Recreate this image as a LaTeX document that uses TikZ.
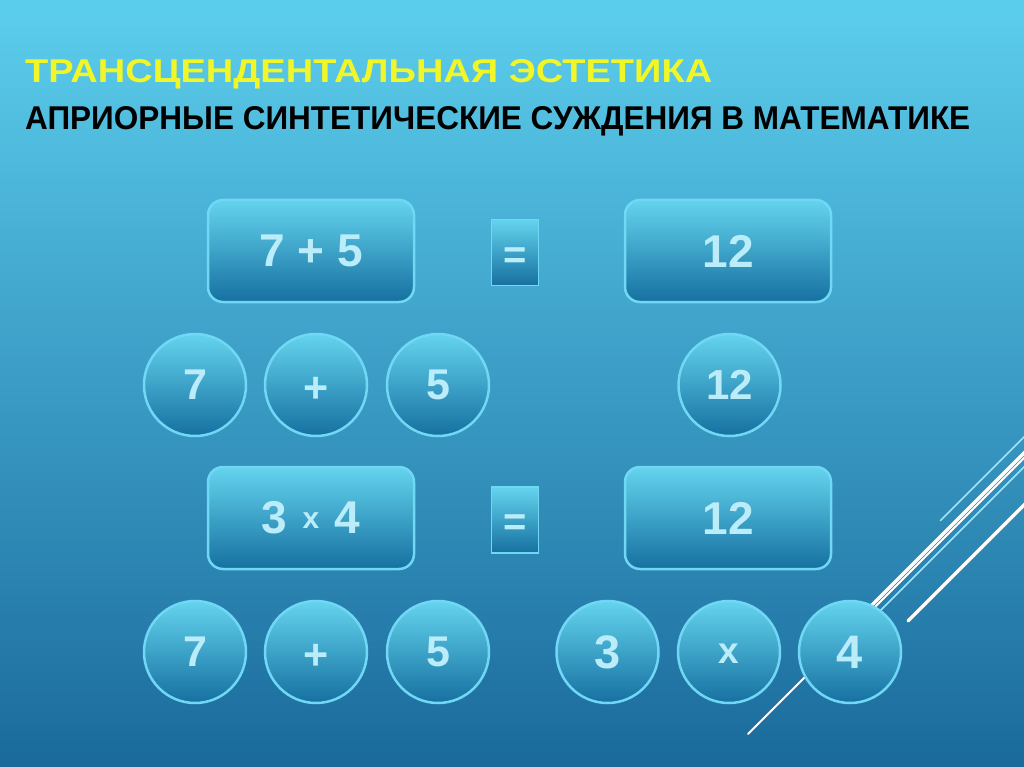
\documentclass[tikz,border=0pt]{standalone}
\usepackage{fontspec}
\setmainfont{Liberation Sans}
\usepackage{graphicx}
\definecolor{bgTop}{RGB}{92,206,237}
\definecolor{bgMid}{RGB}{50,156,200}
\definecolor{bgBot}{RGB}{26,106,156}
\definecolor{fillTop}{RGB}{100,212,238}
\definecolor{fillBot}{RGB}{22,112,160}
\definecolor{edge}{RGB}{112,216,245}
\definecolor{numtxt}{RGB}{186,236,250}
\definecolor{titleyellow}{RGB}{240,246,40}
\definecolor{decocyan}{RGB}{160,228,246}
\begin{document}
\begin{tikzpicture}[x=1pt,y=-1pt,
  shapebase/.style={draw=edge, top color=fillTop, bottom color=fillBot, text=numtxt, inner sep=0pt},
  bigbox/.style={shapebase, rectangle, rounded corners=15pt, line width=2.5pt, minimum width=206pt, minimum height=102pt, font=\bfseries\fontsize{46}{46}\selectfont},
  eqbox/.style={shapebase, rectangle, line width=1.5pt, minimum width=47pt, minimum height=66pt, font=\bfseries\fontsize{40}{40}\selectfont, text height=31pt, text depth=0pt},
  circ/.style={shapebase, circle, line width=2.5pt, minimum size=102pt, font=\bfseries\fontsize{43}{43}\selectfont},
  pluscirc/.style={circ, text height=34pt, text depth=0pt},
  bigcirc/.style={circ, font=\bfseries\fontsize{47}{47}\selectfont},
  smallcirc/.style={circ, font=\bfseries\fontsize{37}{37}\selectfont, text height=23pt, text depth=0pt},
  decothick/.style={draw=white, line width=3.5pt, line cap=round},
  decothin/.style={draw=white, line width=1.8pt, line cap=round},
  decolight/.style={draw=decocyan, line width=1.6pt, line cap=round}
]
\useasboundingbox (0,0) rectangle (1024,767);
\shade[top color=bgTop, middle color=bgMid, bottom color=bgBot] (0,0) rectangle (1024,767);
\clip (0,0) rectangle (1024,767);

% decorative diagonal lines
\coordinate (a1) at (940.5,520.5); \coordinate (a2) at (1030,431);
\coordinate (b1s) at (850,627);  \coordinate (b1e) at (1030,447);
\coordinate (b2s) at (748,734);  \coordinate (b2e) at (1030,452);
\coordinate (b3s) at (860,631);  \coordinate (b3e) at (1030,461);
\coordinate (c1) at (908,621);   \coordinate (c2) at (1030,499);
\draw[decolight] (a1) -- (a2);
\draw[decothick] (b1s) -- (b1e);
\draw[decothin] (b2s) -- (b2e);
\draw[decolight] (b3s) -- (b3e);
\draw[decothick] (c1) -- (c2);

% titles
\node[anchor=base west, inner sep=0pt, text=titleyellow] (title) at (25,83)
  {\resizebox{687pt}{23pt}{\bfseries ТРАНСЦЕНДЕНТАЛЬНАЯ ЭСТЕТИКА}};
\node[anchor=base west, inner sep=0pt, text=black] (subtitle) at (25,130)
  {\resizebox{945pt}{23pt}{\bfseries АПРИОРНЫЕ СИНТЕТИЧЕСКИЕ СУЖДЕНИЯ В МАТЕМАТИКЕ}};

% row 1
\node[bigbox] (sum) at (311,251) {7 + 5};
\node[eqbox] (eq1) at (515,252.5) {=};
\node[bigbox] (res1) at (728,251) {12};

% row 2
\node[circ] (r2a) at (195,385) {7};
\node[pluscirc] (r2b) at (316,385) {+};
\node[circ] (r2c) at (438,385) {5};
\node[circ, font=\bfseries\fontsize{42}{42}\selectfont] (r2d) at (729.5,385) {12};

% row 3
\node[bigbox] (prod) at (311,518) {3\,\,{\fontsize{30}{30}\selectfont\raisebox{5pt}{x}}\,\,4};
\node[eqbox] (eq2) at (515,520) {=};
\node[bigbox] (res2) at (728,518) {12};

% row 4
\node[circ] (r4a) at (195,652) {7};
\node[pluscirc] (r4b) at (316,652) {+};
\node[circ] (r4c) at (438,652) {5};
\node[bigcirc] (r4d) at (607.5,652) {3};
\node[smallcirc] (r4e) at (729,652) {x};
\node[bigcirc] (r4f) at (850,652) {4};
\end{tikzpicture}
\end{document}
